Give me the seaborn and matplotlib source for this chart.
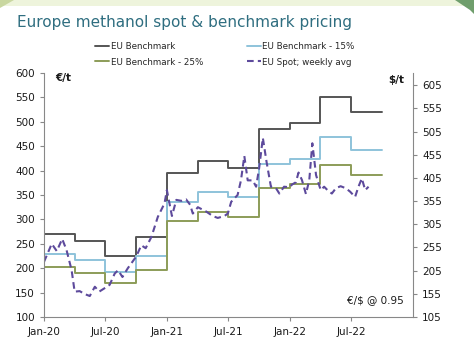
import numpy as np
import pandas as pd
import seaborn as sns
import matplotlib.pyplot as plt
from matplotlib.patches import Rectangle, Polygon

# quarterly contract prices, EUR/t
quarters = ["2020-01-01", "2020-04-01", "2020-07-01", "2020-10-01",
            "2021-01-01", "2021-04-01", "2021-07-01", "2021-10-01",
            "2022-01-01", "2022-04-01", "2022-07-01", "2022-10-01"]
bench = [270, 255, 225, 263, 395, 420, 406, 485, 497, 550, 521, 521]
bench15 = [230, 217, 192, 224, 336, 357, 346, 413, 423, 468, 443, 443]
bench25 = [203, 191, 169, 197, 296, 315, 305, 364, 373, 412, 391, 391]

# weekly spot average, EUR/t
spot_dates = ["2020-01-01", "2020-01-24", "2020-02-08", "2020-02-24", "2020-03-08",
              "2020-03-23", "2020-04-01", "2020-04-16", "2020-05-01", "2020-05-16",
              "2020-05-31", "2020-06-13", "2020-06-29", "2020-07-14", "2020-07-29",
              "2020-08-08", "2020-08-21", "2020-09-06", "2020-10-01", "2020-10-16",
              "2020-10-29", "2020-11-15", "2020-12-04", "2020-12-24", "2020-12-31",
              "2021-01-15", "2021-01-28", "2021-02-12", "2021-02-26", "2021-03-10",
              "2021-03-18", "2021-04-02", "2021-04-27", "2021-05-16", "2021-05-31",
              "2021-06-20", "2021-06-30", "2021-07-10", "2021-07-29", "2021-08-08",
              "2021-08-18", "2021-08-28", "2021-09-12", "2021-09-22", "2021-10-01",
              "2021-10-12", "2021-10-23", "2021-11-05", "2021-11-20", "2021-11-30",
              "2021-12-14", "2021-12-29", "2022-01-08", "2022-01-18", "2022-01-26",
              "2022-02-05", "2022-02-17", "2022-02-27", "2022-03-08", "2022-03-19",
              "2022-03-26", "2022-04-02", "2022-04-12", "2022-04-22", "2022-05-05",
              "2022-05-17", "2022-05-31", "2022-06-15", "2022-06-28", "2022-07-13",
              "2022-07-23", "2022-08-02", "2022-08-12", "2022-08-22"]
spot = [213, 250, 235, 260, 237,
        196, 152, 153, 147, 143,
        162, 152, 159, 166, 189,
        196, 182, 200, 224, 247,
        241, 264, 305, 333, 360,
        307, 340, 338, 341, 330,
        312, 325, 316, 307, 303,
        307, 312, 336, 350, 380,
        430, 380, 380, 367, 405,
        467, 418, 367, 364, 353,
        367, 366, 372, 376, 396,
        381, 352, 381, 456, 391,
        375, 360, 367, 360, 353,
        364, 368, 364, 357, 346,
        367, 384, 360, 367]

xticks = ["2020-01-01", "2020-07-01", "2021-01-01", "2021-07-01", "2022-01-01", "2022-07-01"]
xtick_labels = ["Jan-20", "Jul-20", "Jan-21", "Jul-21", "Jan-22", "Jul-22"]
fx_rate = 0.95

bench_df = pd.DataFrame({"date": pd.to_datetime(quarters), "bench": bench,
                         "bench15": bench15, "bench25": bench25})
spot_df = pd.DataFrame({"date": pd.to_datetime(spot_dates), "spot": spot})

sns.set_style("white")
plt.rcParams["font.family"] = ["DejaVu Sans"]

fig = plt.figure(figsize=(4.74, 3.51), dpi=100)
fig.patch.set_facecolor("white")
# slide decoration at the top edge
fig.patches.append(Rectangle((0, 1 - 6 / 351), 1, 6 / 351, transform=fig.transFigure,
                             facecolor="#eef4dc", edgecolor="none", zorder=-2))
fig.patches.append(Polygon([(0, 1), (14 / 474, 1), (0, 1 - 8 / 351)], closed=True,
                           transform=fig.transFigure, facecolor="#c9d7a0",
                           edgecolor="none", zorder=-1))
fig.patches.append(Polygon([(455 / 474, 1), (1, 1), (1, 1 - 14 / 351), (470 / 474, 1 - 10 / 351)],
                           closed=True, transform=fig.transFigure, facecolor="#6f9e6c",
                           edgecolor="none", zorder=-1))

ax = fig.add_axes([44 / 474, 1 - 317 / 351, (413 - 44) / 474, (317 - 73) / 351])
ax.set_facecolor("none")

c_bench, c15, c25, c_spot = "#555555", "#8ec3da", "#8c9c58", "#5d4a9c"
sns.lineplot(data=bench_df, x="date", y="bench", ax=ax, color=c_bench, lw=1.4,
             drawstyle="steps-post", label="EU Benchmark")
sns.lineplot(data=bench_df, x="date", y="bench15", ax=ax, color=c15, lw=1.4,
             drawstyle="steps-post", label="EU Benchmark - 15%")
sns.lineplot(data=bench_df, x="date", y="bench25", ax=ax, color=c25, lw=1.4,
             drawstyle="steps-post", label="EU Benchmark - 25%")
sns.lineplot(data=spot_df, x="date", y="spot", ax=ax, color=c_spot, lw=1.5,
             linestyle=(0, (3.2, 2)), label="EU Spot; weekly avg")

ax.set_xlim(pd.Timestamp("2020-01-01"), pd.Timestamp("2023-01-01"))
ax.set_ylim(100, 600)
ax.set_yticks(range(100, 601, 50))
ax.set_xticks(pd.to_datetime(xticks))
ax.set_xticklabels(xtick_labels)
ax.set_xlabel("")
ax.set_ylabel("")
for s in ["top", "right"]:
    ax.spines[s].set_visible(False)
for s in ["left", "bottom"]:
    ax.spines[s].set_color("#888888")
    ax.spines[s].set_linewidth(0.8)
ax.tick_params(axis="both", labelsize=7.5, colors="#888888", labelcolor="#1a1a1a",
               length=3, width=0.8)
ax.tick_params(axis="x", pad=4)
ax.tick_params(axis="y", left=True)
ax.tick_params(axis="x", bottom=True)

ax2 = ax.twinx()
ax2.set_ylim(100 / fx_rate, 600 / fx_rate)
ax2.set_yticks(range(105, 606, 50))
for s in ["top", "left", "bottom"]:
    ax2.spines[s].set_visible(False)
ax2.spines["right"].set_color("#888888")
ax2.spines["right"].set_linewidth(0.8)
ax2.tick_params(axis="y", labelsize=7.5, colors="#888888", labelcolor="#1a1a1a",
                length=3, width=0.8, right=True)

ax.text(0.03, 1.0, "€/t", transform=ax.transAxes, fontsize=7.5, fontweight="bold",
        color="#1a1a1a", va="top", ha="left")
ax.text(0.975, 0.99, "$/t", transform=ax.transAxes, fontsize=7.5, fontweight="bold",
        color="#1a1a1a", va="top", ha="right")
ax.text(0.975, 0.07, "€/$ @ 0.95", transform=ax.transAxes, fontsize=7.5,
        color="#1a1a1a", va="center", ha="right")

handles, labels = ax.get_legend_handles_labels()
order = [0, 2, 1, 3]
ax.legend([handles[i] for i in order], [labels[i] for i in order], ncol=2,
          loc="lower center", bbox_to_anchor=(0.49, 1.005), frameon=False,
          fontsize=6.3, handlelength=1.6, handletextpad=0.15, columnspacing=5.0,
          labelspacing=0.75, borderaxespad=0.2)

fig.text(17 / 474, 1 - 22 / 351, "Europe methanol spot & benchmark pricing",
         fontsize=11, color="#2f6e80", va="center", ha="left")

fig.savefig("out.png", dpi=100, facecolor=fig.get_facecolor())
